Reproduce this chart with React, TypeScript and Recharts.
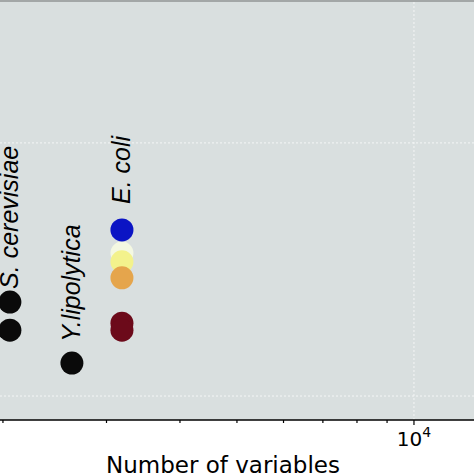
import { CartesianGrid, ReferenceLine, Scatter, ScatterChart, XAxis, YAxis } from "recharts";

// one entry per marker, drawn in this order
const pointGroup = ["S. cerevisiae", "S. cerevisiae", "Y.lipolytica", "E. coli", "E. coli", "E. coli", "E. coli", "E. coli", "E. coli"];
const pointVars = [2055, 2055, 2620, 3187, 3187, 3187, 3187, 3187, 3187];
const pointTime = [2.35, 1.82, 1.35, 3.67, 3.39, 2.93, 4.53, 1.94, 1.82];
const pointColor = ["#0a0a0a", "#0a0a0a", "#0a0a0a", "#f4f8e2", "#f3f28c", "#e5a54c", "#0b14c4", "#6c0a1a", "#6c0a1a"];

const organisms = ["S. cerevisiae", "Y.lipolytica", "E. coli"];
const labelVars = [2055, 2620, 3187];
const labelTime = [2.65, 1.64, 5.74];

const xTicks = [2000, 3000, 4000, 5000, 6000, 7000, 8000, 9000, 10000];
const yGrid = [1, 10];

const points = pointVars.map((x, i) => ({ x, y: pointTime[i], color: pointColor[i], group: pointGroup[i] }));
const labels = organisms.map((name, i) => ({ x: labelVars[i], y: labelTime[i], name }));

const Dot = (props: any) => <circle cx={props.cx} cy={props.cy} r={11.5} fill={props.payload.color} />;

const Name = (props: any) => (
  <text
    x={props.cx + 8.5}
    y={props.cy}
    transform={`rotate(-90 ${props.cx + 8.5} ${props.cy})`}
    fontFamily="Liberation Sans, Arial, sans-serif"
    fontStyle="italic"
    fontSize={25}
    fill="#000"
  >
    {props.payload.name}
  </text>
);

const Tick = ({ x, y, payload }: any) => {
  const major = payload.value === 10000;
  return (
    <g>
      <line x1={x} x2={x} y1={y} y2={y + (major ? 5 : 3)} stroke="#000" strokeWidth={1.2} />
      {major && (
        <text x={x} y={y + 26} textAnchor="middle" fontFamily="DejaVu Sans" fontSize={20} fill="#000">
          10<tspan fontSize={14} dy={-9}>4</tspan>
        </text>
      )}
    </g>
  );
};

const Title = ({ viewBox }: any) => (
  <text x={viewBox.x + 223} y={viewBox.y + 53} textAnchor="middle" fontFamily="DejaVu Sans" fontSize={23} fill="#000">
    Number of variables
  </text>
);

export default function App() {
  return (
    <div style={{ position: "fixed", left: 0, top: 0, width: 474, height: 474, background: "#fff" }}>
      <div style={{ position: "absolute", left: 0, top: 0, width: 474, height: 2, background: "#a3a7a7", zIndex: 1 }} />
      <ScatterChart width={474} height={474} margin={{ top: 0, right: 0, bottom: 0, left: 0 }}>
        <CartesianGrid fill="#d9dfdf" stroke="none" horizontal={false} vertical={false} />
        <XAxis
          dataKey="x"
          type="number"
          scale="log"
          domain={[1977, 12650]}
          allowDataOverflow
          ticks={xTicks}
          tick={<Tick />}
          tickLine={false}
          tickSize={0}
          tickMargin={0}
          interval={0}
          height={54}
          axisLine={{ stroke: "#000", strokeWidth: 1.5 }}
          label={<Title />}
        />
        <YAxis dataKey="y" type="number" scale="log" domain={[0.804, 36.7]} allowDataOverflow hide />
        {yGrid.map((v) => (
          <ReferenceLine key={v} y={v} stroke="#f4f6f6" strokeDasharray="2 2" strokeWidth={1} />
        ))}
        <ReferenceLine x={10000} stroke="#f4f6f6" strokeDasharray="2 2" strokeWidth={1} />
        <Scatter data={points} shape={<Dot />} isAnimationActive={false} />
        <Scatter data={labels} shape={<Name />} isAnimationActive={false} />
      </ScatterChart>
    </div>
  );
}
